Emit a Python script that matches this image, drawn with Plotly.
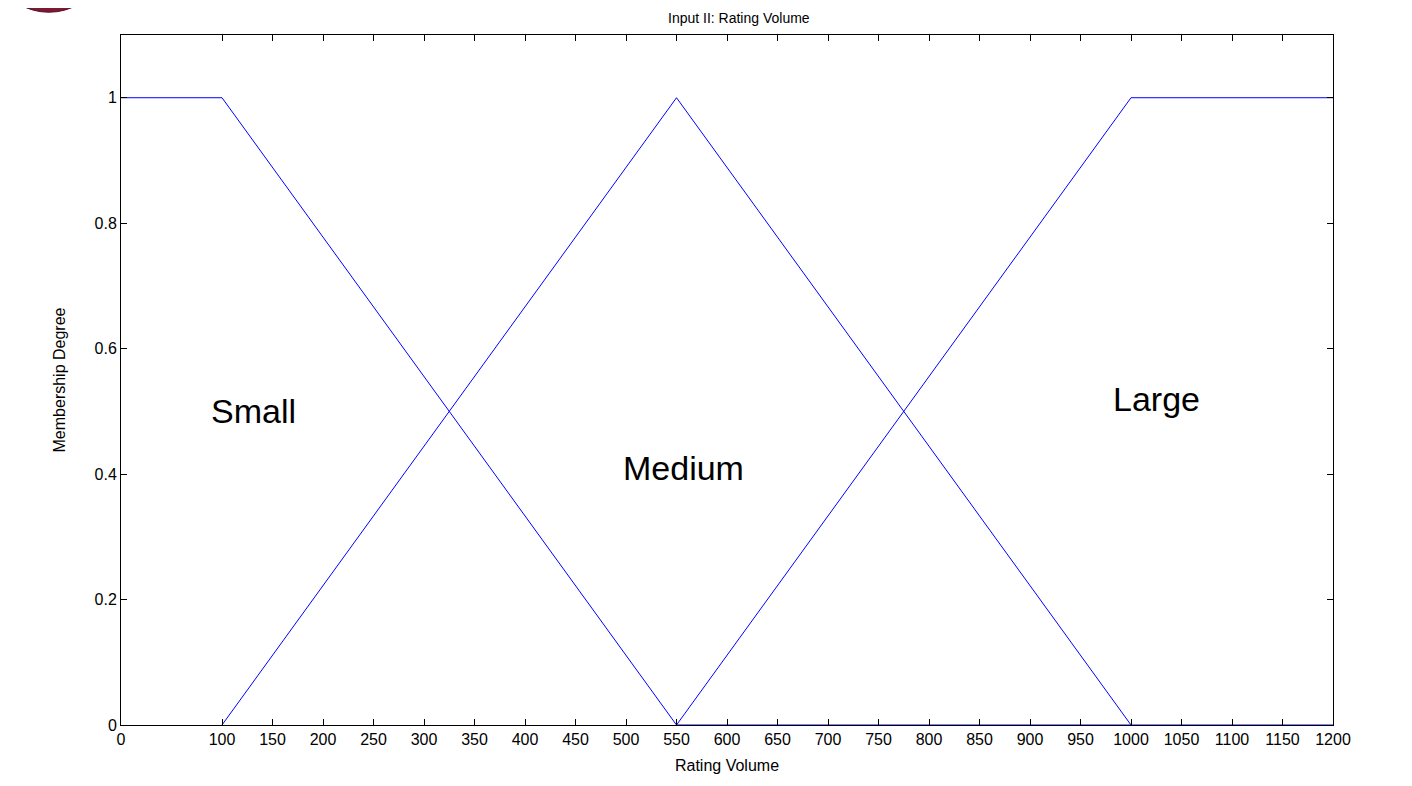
import plotly.graph_objects as go

small_x = [0, 100, 550, 1200]
small_y = [1, 1, 0, 0]
medium_x = [100, 550, 1000]
medium_y = [0, 1, 0]
large_x = [550, 1000, 1200]
large_y = [0, 1, 1]

labels = ["Small", "Medium", "Large"]
label_x = [131, 557, 1025]
label_y = [0.50, 0.41, 0.52]

x_ticks = [0] + list(range(100, 1201, 50))
y_ticks = [0, 0.2, 0.4, 0.6, 0.8, 1]

fig = go.Figure()
for xs, ys in [(small_x, small_y), (medium_x, medium_y), (large_x, large_y)]:
    fig.add_trace(go.Scatter(x=xs, y=ys, mode="lines",
                             line=dict(color="#0000ff", width=1), showlegend=False))

for t, x, y in zip(labels, label_x, label_y):
    fig.add_annotation(x=x, y=y, text=t, showarrow=False,
                       font=dict(size=34, color="black"))

# title as annotation so it can sit near the top edge
fig.add_annotation(xref="paper", yref="paper", x=0.51, y=1.039, yanchor="top",
                   text="Input II: Rating Volume", showarrow=False,
                   font=dict(size=14, color="black"))

# partial logo at top-left corner
fig.add_shape(type="circle", xref="paper", yref="paper",
              x0=-0.093, x1=-0.026, y0=1.033, y1=1.11,
              fillcolor="#7a1a35", line=dict(color="#5a1025", width=1))

axis_common = dict(showgrid=False, zeroline=False, showline=True, mirror="ticks",
                   linecolor="black", linewidth=1, ticks="inside", ticklen=6,
                   tickcolor="black", tickfont=dict(size=16, color="black"))

fig.update_layout(
    width=1412, height=786,
    margin=dict(l=113, r=87, t=27, b=69),
    plot_bgcolor="white", paper_bgcolor="white",
    font=dict(family="Liberation Sans, Arial, sans-serif", color="black"),
    xaxis=dict(range=[0, 1200], tickvals=x_ticks,
               title=dict(text="Rating Volume", font=dict(size=16), standoff=12),
               **axis_common),
    yaxis=dict(range=[0, 1.1], tickvals=y_ticks, ticktext=["0", "0.2", "0.4", "0.6", "0.8", "1"],
               title=dict(text="Membership Degree", font=dict(size=16), standoff=24),
               **axis_common),
)

fig.write_html("out.html")
